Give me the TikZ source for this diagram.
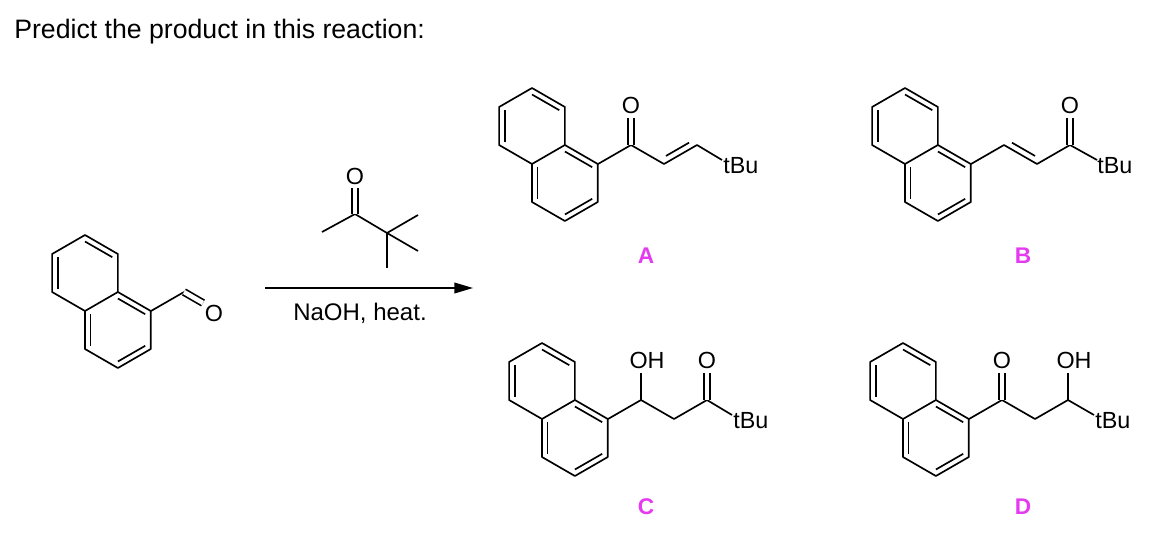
\documentclass[tikz,border=0pt]{standalone}
\usepackage{fontspec}
\setmainfont{Liberation Sans}
\usetikzlibrary{calc,arrows.meta}
\definecolor{labmag}{RGB}{228,58,240}
\newcommand\naph[2]{%
 \begin{scope}[shift={(#1,#2)}]
 \draw[bond] (0,-38)--(32.9,-19)--(32.9,19)--(0,38)--(-32.9,19)--(-32.9,-19)--cycle;
 \draw[bond] (32.9,19)--(65.8,38)--(65.8,76)--(32.9,95)--(0,76)--(0,38);
 \draw[bond] (0,-31.5)--(27.3,-15.8);
 \draw[bond] (-27.3,-15.8)--(-27.3,15.8);
 \draw[bond] (32.9,25.5)--(60.2,41.2);
 \draw[bond] (5.6,41.2)--(5.6,72.8);
 \draw[bond] (32.9,88.5)--(60.2,72.8);
 \end{scope}}
\begin{document}
\begin{tikzpicture}[x=0.75pt,y=-0.75pt,
  bond/.style={line width=1.25pt,line join=round},
  dbl/.style={line width=1.25pt,double,double distance=3.4pt},
  atom/.style={font=\fontsize{17.5}{20}\selectfont,inner sep=0pt},
  lab/.style={font=\fontsize{17}{20}\selectfont\bfseries,text=labmag,inner sep=0pt}]
\useasboundingbox (0,0) rectangle (1168,536);
\node[anchor=west,font=\fontsize{20}{24}\selectfont,inner sep=0pt] (title) at (14,32) {Predict the product in this reaction:};
% starting aldehyde
\naph{85}{273}
\draw[bond] (151,311)--(184,292);
\draw[dbl] (184,292)--(203,303);
\node[atom] (o0) at (214,313) {O};
% reagent
\draw[bond] (322,232)--(355,214)--(387,233)--(418,215);
\draw[bond] (387,233)--(418,251);
\draw[bond] (387,233)--(387,268);
\draw[dbl] (355,214)--(355,188);
\node[atom] (o1) at (355,176) {O};
\coordinate (a1) at (265,288); \coordinate (a2) at (473,288);
\draw[line width=1.25pt,-{Triangle[length=14pt,width=8pt]}] (a1)--(a2);
\node[font=\fontsize{18}{20}\selectfont,inner sep=0pt] (cond) at (360,313) {NaOH, heat.};
% A
\naph{532}{126}
\draw[bond] (598,164)--(631,145)--(664,164)--(697,145)--(722,160);
\draw[dbl] (631,145)--(631,118);
\draw[bond] ($(664,164)!0.15!(697,145)+(-3,-5.2)$)--($(697,145)!0.15!(664,164)+(-3,-5.2)$);
\node[atom] (oa) at (631,105) {O};
\node[atom,anchor=west] (ta) at (723,166) {tBu};
\node[lab] (la) at (646,256) {A};
% B
\naph{905}{126}
\draw[bond] (971,164)--(1004,145)--(1037,164)--(1070,145)--(1097,160);
\draw[bond] ($(1004,145)!0.15!(1037,164)+(3,-5.2)$)--($(1037,164)!0.15!(1004,145)+(3,-5.2)$);
\draw[dbl] (1070,145)--(1070,118);
\node[atom] (ob) at (1070,105) {O};
\node[atom,anchor=west] (tb) at (1097,166) {tBu};
\node[lab] (lb) at (1023,256) {B};
% C
\naph{542}{381}
\draw[bond] (608,419)--(641,400)--(674,419)--(707,400)--(732,415);
\draw[bond] (641,400)--(641,373);
\draw[dbl] (707,400)--(707,373);
\node[atom] (ohc) at (647,360) {OH};
\node[atom] (oc) at (707,360) {O};
\node[atom,anchor=west] (tc) at (733,421) {tBu};
\node[lab] (lc) at (646,507) {C};
% D
\naph{903}{381}
\draw[bond] (969,419)--(1002,400)--(1035,419)--(1068,400)--(1094,415);
\draw[dbl] (1002,400)--(1002,373);
\draw[bond] (1068,400)--(1068,373);
\node[atom] (od) at (1002,360) {O};
\node[atom] (ohd) at (1074,360) {OH};
\node[atom,anchor=west] (td) at (1095,421) {tBu};
\node[lab] (ld) at (1023,507) {D};
\end{tikzpicture}
\end{document}
